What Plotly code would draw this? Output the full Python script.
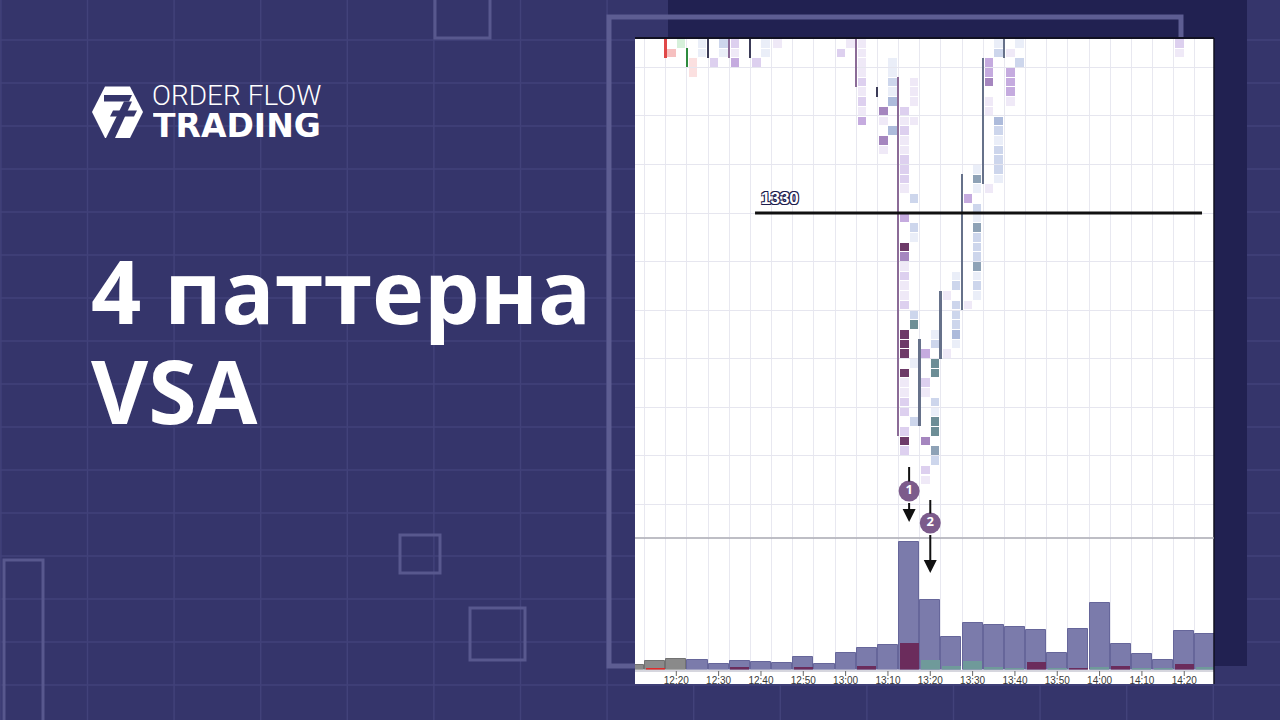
import plotly.graph_objects as go

W, H = 1280, 720

# ---------------- data ----------------
bar_times = ["12:10", "12:15", "12:20", "12:25", "12:30", "12:35", "12:40", "12:45", "12:50", "12:55",
             "13:00", "13:05", "13:10", "13:15", "13:20", "13:25", "13:30", "13:35", "13:40", "13:45",
             "13:50", "13:55", "14:00", "14:05", "14:10", "14:15", "14:20", "14:25"]
volume = [5, 9, 11, 10, 6, 9, 8, 7, 13, 6, 17, 22, 25, 128, 70, 33, 47, 45, 43, 40, 17, 41, 67, 26, 16, 10, 39, 36]
volume_kind = ["gray", "gray", "gray"] + ["main"] * 25
volume_part = [0, 1.5, 0, 0, 0, 3, 0, 0, 2.5, 0, 0, 4, 0, 27, 10, 3.5, 8.5, 3, 2, 8, 2, 2, 3, 3.5, 2, 1.5, 6, 3]
volume_part_kind = ["", "red", "", "", "", "plum", "", "", "plum", "", "", "plum", "", "plum", "teal", "teal",
                    "teal", "teal", "teal", "plum", "teal", "plum", "teal", "plum", "teal", "teal", "plum", "teal"]

tick_labels = ["12:20", "12:30", "12:40", "12:50", "13:00", "13:10", "13:20", "13:30", "13:40", "13:50",
               "14:00", "14:10", "14:20"]

wick_times = ["12:20", "12:25", "12:30", "12:35", "12:40", "13:05", "13:10", "13:15", "13:20", "13:25",
              "13:30", "13:35", "13:40"]
wick_low = [1346, 1345, 1346, 1346, 1346, 1343, 1342, 1307, 1308, 1315, 1320, 1333, 1346]
wick_high = [1350, 1347, 1350, 1350, 1350, 1350, 1343, 1344, 1317, 1322, 1334, 1346, 1350]
wick_kind = ["red", "green", "dark", "plum", "dark", "plum", "dark", "plum", "slate", "slate", "slate", "slate", "slate"]

# footprint cells: time, side (A = left column, B = right column), price level, shade
cell_time = (["12:20", "12:20"] + ["12:25"] * 4 + ["12:30"] * 3 + ["12:35"] * 3 + ["12:40"] * 3 + ["12:45"]
             + ["13:00"] * 3 + ["13:05"] * 9 + ["13:10"] * 10 + ["13:15"] * 39 + ["13:20"] * 16
             + ["13:25"] * 9 + ["13:30"] * 15 + ["13:35"] * 15 + ["13:40"] * 7 + ["14:20"] * 2)
cell_side = (["A", "B"] + ["A", "A", "B", "B"] + ["A", "B", "B"] + ["A", "A", "A"] + ["A", "B", "B"] + ["A"]
             + ["A", "A", "B"] + ["A"] * 9 + ["A"] * 4 + ["B"] * 6 + ["A"] * 28 + ["B"] * 11
             + ["A"] * 6 + ["B"] * 10 + ["A"] * 2 + ["B"] * 7 + ["A"] * 2 + ["B"] * 13
             + ["A"] * 6 + ["B"] * 9 + ["A"] * 5 + ["B"] * 2 + ["A"] * 2)
cell_price = ([1346, 1347] + [1345, 1344, 1347, 1346] + [1345, 1347, 1346] + [1347, 1346, 1345]
              + [1345, 1347, 1346] + [1347]
              + [1348, 1346, 1347]
              + [1347, 1346, 1345, 1344, 1343, 1342, 1341, 1340, 1339]
              + [1340, 1339, 1337, 1336] + [1345, 1344, 1343, 1342, 1341, 1338]
              + [1340, 1339, 1338, 1337, 1336, 1335, 1334, 1333, 1332, 1329, 1326, 1325, 1324, 1323, 1322,
                 1321, 1320, 1317, 1316, 1315, 1313, 1312, 1311, 1310, 1309, 1307, 1306, 1305]
              + [1343, 1342, 1341, 1339, 1331, 1328, 1327, 1319, 1318, 1314, 1308]
              + [1315, 1312, 1311, 1306, 1303, 1302]
              + [1317, 1316, 1314, 1313, 1310, 1309, 1308, 1307, 1305, 1304]
              + [1321, 1315] + [1323, 1322, 1320, 1319, 1318, 1317, 1316]
              + [1331, 1320] + [1334, 1333, 1332, 1330, 1329, 1328, 1327, 1326, 1325, 1324, 1323, 1322, 1321]
              + [1345, 1344, 1343, 1341, 1340, 1332] + [1347, 1346, 1339, 1338, 1337, 1336, 1335, 1334, 1333]
              + [1346, 1344, 1343, 1342, 1341] + [1347, 1345]
              + [1347, 1346])
cell_shade = (["r2", "g1"] + ["r1", "r1", "b1", "b1"] + ["p2", "b2", "b1"] + ["p2", "p1", "p3"]
              + ["p2", "b1", "b1"] + ["p1"]
              + ["p2", "p2", "p1"]
              + ["p1", "p1", "p1", "p1", "p2", "p1", "p2", "p1", "p3"]
              + ["p4", "p1", "p4", "p1"] + ["b1", "b1", "b2", "b1", "b3", "b3"]
              + ["p2", "p1", "p2", "p1", "p1", "p2", "p2", "p2", "p1", "p3", "p5", "p4", "p1", "p2", "p1",
                 "p1", "p2", "p5", "p5", "p5", "p5", "p1", "p1", "p2", "p2", "p2", "p5", "p2"]
              + ["p1", "p1", "p1", "p1", "b2", "b2", "b1", "b2", "b5", "b1", "b2"]
              + ["p3", "p2", "p1", "p4", "p2", "p1"]
              + ["b1", "b2", "b5", "b5", "b2", "b1", "b5", "b5", "b4", "b2"]
              + ["p1", "p1"] + ["b1", "b2", "b2", "b2", "b2", "b3", "b1"]
              + ["p3", "p1"] + ["b1", "b4", "b1", "b2", "b1", "b4", "b2", "b2", "b2", "b4", "b1", "b2", "b1"]
              + ["p3", "p3", "p4", "p1", "p1", "p1"] + ["b1", "b2", "b3", "b2", "b1", "b2", "b2", "b2", "b1"]
              + ["p1", "p3", "p3", "p3", "p1"] + ["b1", "b2"]
              + ["p2", "p1"])

level_price = 1330
level_label = "1330"
signal_times = ["13:15", "13:20"]
signal_labels = ["1", "2"]

title_lines = ["4 паттерна", "VSA"]
logo_top = "ORDER FLOW"
logo_bottom = "TRADING"

# ---------------- styles ----------------
BG = "#35356b"
BG_GRID = "#42427a"
DARK = "#212151"
OUTLINE = "#58588e"
SHADES = {"p1": "#efe9f7", "p2": "#ddd0ef", "p3": "#c5abdf", "p4": "#a586bf", "p5": "#6d3a68",
          "b1": "#eaeef8", "b2": "#cdd6ec", "b3": "#adbbdb", "b4": "#8ea2b6", "b5": "#6d8e96",
          "r1": "#fbe0e0", "r2": "#f6c0c0", "g1": "#d6f0da"}
WICK = {"red": "#e04848", "green": "#2e8b3e", "dark": "#3c3c58", "plum": "#8b6b97", "slate": "#66718a"}
VOL = {"gray": "#8a8a8a", "main": "#7b7bab"}
VOL_LINE = {"gray": "#727272", "main": "#66669a"}
PART = {"red": "#e02a2a", "plum": "#6b2c5c", "teal": "#6f9a9a", "": "rgba(0,0,0,0)"}


def to_min(t):
    h, m = t.split(":")
    return (int(h) - 12) * 60 + int(m)


def fx(x):
    return x / W


def fy(y):
    return 1 - y / H


X0, X1 = 635, 1214          # chart panel in pixels
PRICE_TOP, PRICE_BOT = 38, 537
VOL_TOP, VOL_BOT = 538, 669.5
x_range = [10.24, 147.03]
y_range = [1296.6, 1348.04]


def price_at(ypx):
    return y_range[1] - (ypx - PRICE_TOP) * (y_range[1] - y_range[0]) / (PRICE_BOT - PRICE_TOP)


fig = go.Figure()

# footprint cells
side_off = {"A": -1.1, "B": 1.1}
fig.add_trace(go.Bar(
    x=[to_min(t) + side_off[s] for t, s in zip(cell_time, cell_side)],
    base=[p + 0.06 for p in cell_price],
    y=[0.88] * len(cell_price),
    width=[2.0] * len(cell_price),
    marker=dict(color=[SHADES[s] for s in cell_shade], line=dict(width=0)),
    xaxis="x", yaxis="y", hoverinfo="skip", showlegend=False))

# candle lines
fig.add_trace(go.Bar(
    x=[to_min(t) - 2.5 for t in wick_times],
    base=wick_low,
    y=[h - l for h, l in zip(wick_high, wick_low)],
    width=[0.42] * len(wick_times),
    marker=dict(color=[WICK[k] for k in wick_kind], line=dict(width=0)),
    xaxis="x", yaxis="y", hoverinfo="skip", showlegend=False))

# volume
fig.add_trace(go.Bar(
    x=[to_min(t) for t in bar_times], y=volume, width=[4.75] * len(volume),
    marker=dict(color=[VOL[k] for k in volume_kind],
                line=dict(color=[VOL_LINE[k] for k in volume_kind], width=1)),
    xaxis="x2", yaxis="y2", hoverinfo="skip", showlegend=False))
fig.add_trace(go.Bar(
    x=[to_min(t) for t in bar_times], y=volume_part, width=[4.5] * len(volume),
    marker=dict(color=[PART[k] for k in volume_part_kind], line=dict(width=0)),
    xaxis="x2", yaxis="y2", hoverinfo="skip", showlegend=False))

shapes = []
# background grid
for k in range(-1, 16):
    gx = 87.5 + 86.6 * k
    shapes.append(dict(type="line", xref="paper", yref="paper", x0=fx(gx), x1=fx(gx), y0=0, y1=1,
                       line=dict(color=BG_GRID, width=1.5), layer="below"))
for k in range(-1, 17):
    gy = 40 + 43 * k
    shapes.append(dict(type="line", xref="paper", yref="paper", x0=0, x1=1, y0=fy(gy), y1=fy(gy),
                       line=dict(color=BG_GRID, width=1.5), layer="below"))


def rect(x0, y0, x1, y1, **kw):
    d = dict(type="rect", xref="paper", yref="paper", x0=fx(x0), x1=fx(x1), y0=fy(y1), y1=fy(y0), layer="below")
    d.update(kw)
    return d


# dark block behind the chart
shapes.append(rect(668, -5, 1247, 666, fillcolor=DARK, line=dict(width=0)))
# decorative outlines
for (a, b, c, d) in [(435, -8, 490, 38), (400, 535, 440, 573), (470, 608, 525, 660), (4, 560, 43, 730)]:
    shapes.append(rect(a, b, c, d, line=dict(color=OUTLINE, width=3), fillcolor="rgba(0,0,0,0)"))
shapes.append(rect(609, 17, 1181, 666, line=dict(color="#5d5d92", width=5), fillcolor="rgba(0,0,0,0)"))
# white chart panel
shapes.append(rect(X0, PRICE_TOP, X1, 684, fillcolor="white", line=dict(width=0)))
shapes.append(dict(type="line", xref="paper", yref="paper", x0=fx(X0), x1=fx(X1), y0=fy(PRICE_TOP), y1=fy(PRICE_TOP),
                   line=dict(color="#111122", width=2), layer="above"))
shapes.append(dict(type="line", xref="paper", yref="paper", x0=fx(X1), x1=fx(X1), y0=fy(PRICE_TOP), y1=fy(684),
                   line=dict(color="#111122", width=1.5), layer="above"))
# pane separator
shapes.append(dict(type="line", xref="paper", yref="paper", x0=fx(X0), x1=fx(X1), y0=fy(VOL_TOP), y1=fy(VOL_TOP),
                   line=dict(color="#a9a9b2", width=1.5), layer="above"))
# 1330 level
shapes.append(dict(type="line", xref="x", yref="y", x0=38.6, x1=144.2, y0=level_price, y1=level_price,
                   line=dict(color="#111111", width=3), layer="above"))
# short tick marks above the time labels
for t in tick_labels:
    shapes.append(dict(type="line", xref="x2", yref="paper", x0=to_min(t), x1=to_min(t), y0=fy(671), y1=fy(676),
                       line=dict(color="#666666", width=1), layer="above"))


# logo hexagon + glyph
def poly(points, color):
    path = "M " + " L ".join(f"{fx(x):.5f},{fy(y):.5f}" for x, y in points) + " Z"
    return dict(type="path", xref="paper", yref="paper", path=path, fillcolor=color, line=dict(width=0), layer="above")


shapes.append(poly([(92, 112), (105, 86.5), (130, 86.5), (143, 112), (130, 138), (105, 138)], "white"))
shapes.append(poly([(104, 95), (132, 95), (129, 101.5), (104, 101.5)], BG))
shapes.append(poly([(124, 101.5), (132, 101.5), (115, 138), (106, 138)], BG))
shapes.append(poly([(113, 110.5), (137, 110.5), (134, 116.5), (110, 116.5)], BG))

# signal markers (circle + arrow)
sig_px = [(467, 491, 522), (500, 523, 573)]
annotations = []
R = 10.5
for t, (top, cy, tip) in zip(signal_times, sig_px):
    xm = to_min(t)
    shapes.append(dict(type="line", xref="x", yref="paper", x0=xm, x1=xm, y0=fy(top), y1=fy(cy - R + 1),
                       line=dict(color="#111111", width=2), layer="above"))
    annotations.append(dict(x=xm, y=fy(tip), xref="x", yref="paper", ax=0, ay=-(tip - cy - R), text="",
                            showarrow=True, arrowhead=2, arrowsize=1.3, arrowwidth=2, arrowcolor="#111111"))
fig.add_trace(go.Scatter(
    x=[to_min(t) for t in signal_times], y=[price_at(c[1]) for c in sig_px],
    mode="markers+text", text=signal_labels, textposition="middle center",
    textfont=dict(family="Open Sans", size=13, color="white", weight=700),
    marker=dict(size=2 * R, color="#7c5b8b", line=dict(width=0)),
    cliponaxis=False, xaxis="x", yaxis="y", hoverinfo="skip", showlegend=False))

annotations.append(dict(x=38.6, y=level_price, xref="x", yref="y", xanchor="left", yanchor="bottom",
                        xshift=4, yshift=3, text=level_label, showarrow=False,
                        font=dict(family="Liberation Sans", size=17, color="white", weight=700,
                                  shadow="-1px -1px 0 #1d1d4d, 1px -1px 0 #1d1d4d, -1px 1px 0 #1d1d4d, 1px 1px 0 #1d1d4d")))

# titles (box bottoms sit just under each text line, boxes trimmed at the top so they do not overlap)
for line, bottom in zip(title_lines, [352, 452]):
    annotations.append(dict(x=fx(89), y=fy(bottom), xref="paper", yref="paper", xanchor="left", yanchor="bottom",
                            text=line, showarrow=False, height=98, valign="bottom",
                            font=dict(family="Open Sans", size=88, color="white", weight=700)))
annotations.append(dict(x=fx(150), y=fy(96), xref="paper", yref="paper", xanchor="left", yanchor="middle",
                        text=logo_top, showarrow=False,
                        font=dict(family="Roboto", size=28, color="white", weight=300)))
annotations.append(dict(x=fx(151), y=fy(147), xref="paper", yref="paper", xanchor="left", yanchor="bottom",
                        text=logo_bottom, showarrow=False, height=32, valign="bottom",
                        font=dict(family="DejaVu Sans", size=33, color="white", weight=700)))

minor_grid = dict(tick0=2.5, dtick=5, showgrid=True, gridcolor="#e8e8f0", gridwidth=1)
fig.update_layout(
    width=W, height=H, margin=dict(l=0, r=0, t=0, b=0, pad=0),
    paper_bgcolor=BG, plot_bgcolor="rgba(0,0,0,0)",
    barmode="overlay", bargap=0, showlegend=False,
    xaxis=dict(domain=[fx(X0), fx(X1)], anchor="y", range=x_range, showticklabels=False, ticks="",
               showgrid=False, zeroline=False, minor=minor_grid, fixedrange=True),
    yaxis=dict(domain=[fy(PRICE_BOT), fy(PRICE_TOP)], anchor="x", range=y_range, tick0=0, dtick=5,
               showticklabels=False, showgrid=True, gridcolor="#e6e6ef", gridwidth=1, zeroline=False),
    xaxis2=dict(domain=[fx(X0), fx(X1)], anchor="y2", range=x_range, matches="x",
                tickvals=[to_min(t) for t in tick_labels], ticktext=tick_labels,
                tickfont=dict(family="Liberation Sans", size=10, color="#3a3a3a"),
                ticks="", showgrid=False, zeroline=False,
                showline=True, linecolor="#d6d6de", linewidth=2, minor=minor_grid),
    yaxis2=dict(domain=[fy(VOL_BOT), fy(VOL_TOP)], anchor="x2", range=[0, 131.5], showgrid=False,
                showticklabels=False, zeroline=False),
    shapes=shapes, annotations=annotations,
)

fig.write_html("out.html", config={"displayModeBar": False},
               post_script="document.body.style.margin='0';document.body.style.background='" + BG + "';")
